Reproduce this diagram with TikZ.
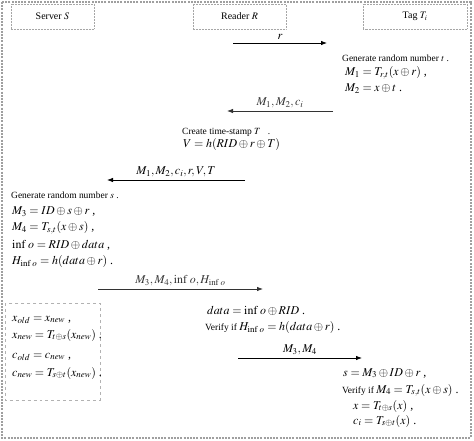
\documentclass[tikz,border=0pt]{standalone}
\usepackage{mathptmx}
\usepackage{fontspec}
\setmainfont{Liberation Serif}
\usetikzlibrary{arrows.meta}
\newcommand{\infx}{\inf\,o}
\begin{document}
\begin{tikzpicture}[x=1bp,y=-1bp,
  head/.style={draw=gray!70,densely dotted,line width=0.5pt,minimum height=25bp,inner sep=0pt,font=\fontsize{10}{12}\selectfont},
  txt/.style={anchor=base west,inner sep=0pt,font=\fontsize{9.5}{11}\selectfont},
  mth/.style={anchor=base west,inner sep=0pt,font=\fontsize{12}{14}\selectfont},
  lbl/.style={inner sep=0pt,font=\fontsize{12}{14}\selectfont},
  msg/.style={-{Latex[length=6bp,width=4.5bp]},line width=0.8pt},
]
\useasboundingbox (0,0) rectangle (474,441);
\draw[gray!75,dash pattern=on 2bp off 1.2bp,line width=2pt] (2,2) rectangle (471,438);

\node[head,minimum width=83bp] (srv) at (52.5,16.5) {Server $S$};
\node[head,minimum width=93bp] (rdr) at (239.5,16.5) {Reader $R$};
\node[head,minimum width=104bp] (tag) at (415,16.5) {Tag $T_i$};

% r
\coordinate (a1s) at (233,43); \coordinate (a1e) at (327,43);
\draw[msg] (a1s) -- (a1e) node[lbl,midway,above=3bp] (l1) {$r$};

\node[txt] (t1) at (342,62) {Generate random number $t$ .};
\node[mth] (t2) at (345,76) {$M_1=T_{r,t}(x\oplus r)$ ,};
\node[mth] (t3) at (345,92) {$M_2=x\oplus t$ .};

\coordinate (a2s) at (333,111); \coordinate (a2e) at (227,111);
\draw[msg,black!80] (a2s) -- (a2e) node[lbl,midway,above=3bp] (l2) {$M_1,M_2,c_i$};

\node[txt] (r1) at (182,135) {Create time-stamp $T$ \ \ .};
\node[mth] (r2) at (183,148) {$V=h(RID\oplus r\oplus T)$};

\coordinate (a3s) at (245,180); \coordinate (a3e) at (107,180);
\draw[msg] (a3s) -- (a3e) node[lbl,midway,above=3bp] (l3) {$M_1,M_2,c_i,r,V,T$};

\node[txt] (s1) at (11,199) {Generate random number $s$ .};
\node[mth] (s2) at (12,215) {$M_3=ID\oplus s\oplus r$ ,};
\node[mth] (s3) at (12,231) {$M_4=T_{s,t}(x\oplus s)$ ,};
\node[mth] (s4) at (12,248) {$\infx=RID\oplus data$ ,};
\node[mth] (s5) at (12,264) {$H_{\infx}=h(data\oplus r)$ .};

\coordinate (a4s) at (98,289); \coordinate (a4e) at (263,289);
\draw[msg,black!80] (a4s) -- (a4e) node[lbl,midway,above=3bp] (l4) {$M_3,M_4,\infx,H_{\infx}$};

\draw[gray!60,dashed,line width=0.5pt] (5,303) rectangle (100,400);
\node[mth] (b1) at (12,321) {$x_{old}=x_{new}$ ,};
\node[mth] (b2) at (12,338) {$x_{new}=T_{t\oplus s}(x_{new})$ .};
\node[mth] (b3) at (12,358) {$c_{old}=c_{new}$ ,};
\node[mth] (b4) at (12,376) {$c_{new}=T_{s\oplus t}(x_{new})$ .};

\node[mth] (r3) at (207,314) {$data=\infx\oplus RID$ .};
\node[mth] (r4) at (205,330) {\fontsize{9.5}{11}\selectfont Verify if \fontsize{12}{14}\selectfont$H_{\infx}=h(data\oplus r)$ .};

\coordinate (a5s) at (238,358); \coordinate (a5e) at (362,358);
\draw[msg] (a5s) -- (a5e) node[lbl,midway,above=3bp] (l5) {$M_3,M_4$};

\node[mth] (u1) at (343,376) {$s=M_3\oplus ID\oplus r$ ,};
\node[mth] (u2) at (342,393) {\fontsize{9.5}{11}\selectfont Verify if \fontsize{12}{14}\selectfont$M_4=T_{s,t}(x\oplus s)$ .};
\node[mth] (u3) at (353,409) {$x=T_{t\oplus s}(x)$ ,};
\node[mth] (u4) at (353,424) {$c_i=T_{s\oplus t}(x)$ .};
\end{tikzpicture}
\end{document}
